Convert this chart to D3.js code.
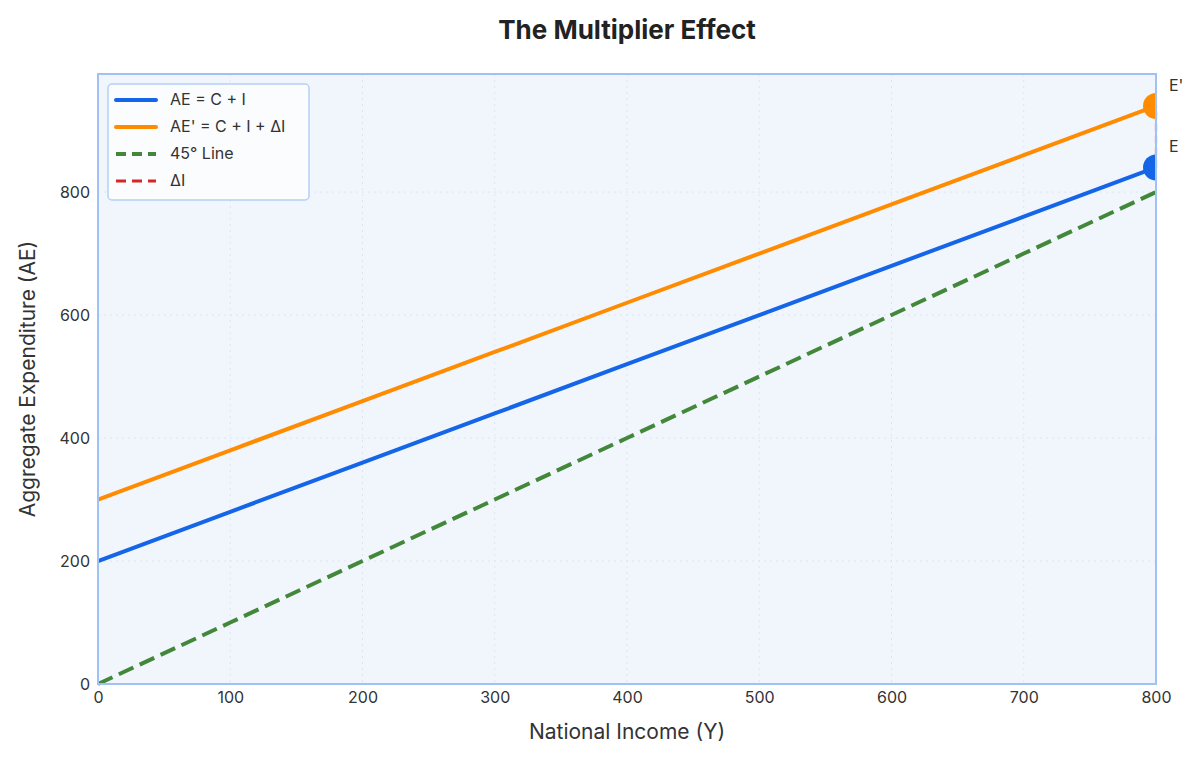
<!DOCTYPE html>
<html>
<head>
<meta charset="utf-8">
<script src="https://cdn.jsdelivr.net/npm/d3@7"></script>
<style>
  body { margin: 0; background: #fff; font-family: Inter, "DejaVu Sans", sans-serif; }
</style>
</head>
<body>
<div id="chart"></div>
<script>
// data
var incomeY = [0, 100, 200, 300, 400, 500, 600, 700, 800];
var aeBase = [200, 280, 360, 440, 520, 600, 680, 760, 840];
var aeNew = [300, 380, 460, 540, 620, 700, 780, 860, 940];
var line45 = [0, 100, 200, 300, 400, 500, 600, 700, 800];
var xTicks = [0, 100, 200, 300, 400, 500, 600, 700, 800];
var yTicks = [0, 200, 400, 600, 800];
var eqPoints = [{ label: "E", x: 800, y: 840, color: "#1565e8" }, { label: "E'", x: 800, y: 940, color: "#ff8c00" }];
var legendLabels = ["AE = C + I", "AE' = C + I + \u0394I", "45\u00b0 Line", "\u0394I"];

var margin = { top: 74, right: 44, bottom: 77, left: 98 },
    width = 1200 - margin.left - margin.right,
    height = 761 - margin.top - margin.bottom;

var svg = d3.select("#chart")
    .append("svg")
    .attr("width", 1200)
    .attr("height", 761)
    .append("g")
    .attr("transform", "translate(" + margin.left + "," + margin.top + ")");

svg.append("clipPath").attr("id", "plotclip")
    .append("rect").attr("width", width).attr("height", height);

var x = d3.scaleLinear().domain([0, 800]).range([0, width]);
var y = d3.scaleLinear().domain([0, 992]).range([height, 0]);

// background
svg.append("rect")
    .attr("width", width)
    .attr("height", height)
    .style("fill", "#f1f6fd");

// grid
svg.append("g").selectAll("line")
    .data(xTicks)
    .enter().append("line")
    .attr("x1", d => x(d)).attr("x2", d => x(d))
    .attr("y1", 0).attr("y2", height)
    .style("stroke", "#dde5f0").style("stroke-dasharray", "2,4");
svg.append("g").selectAll("line")
    .data(yTicks)
    .enter().append("line")
    .attr("y1", d => y(d)).attr("y2", d => y(d))
    .attr("x1", 0).attr("x2", width)
    .style("stroke", "#dde5f0").style("stroke-dasharray", "2,4");

// axes
var xAxis = svg.append("g")
    .attr("transform", "translate(0," + height + ")")
    .call(d3.axisBottom(x).tickValues(xTicks).tickSize(0).tickPadding(8));
var yAxis = svg.append("g")
    .call(d3.axisLeft(y).tickValues(yTicks).tickSize(0).tickPadding(8));
[xAxis, yAxis].forEach(function (a) {
    a.select(".domain").remove();
    a.selectAll("text").style("font-size", "16px").style("fill", "#333").style("font-family", "Inter, sans-serif");
});

// lines
var line = d3.line().x(d => x(d[0])).y(d => y(d[1]));
function pairs(vals) { return incomeY.map((v, i) => [v, vals[i]]); }

svg.append("path")
    .datum(pairs(line45))
    .attr("d", line)
    .style("fill", "none").style("stroke", "#43883a").style("stroke-width", 4)
    .style("stroke-dasharray", "16,7");
svg.append("path")
    .datum(pairs(aeBase))
    .attr("d", line)
    .style("fill", "none").style("stroke", "#1565e8").style("stroke-width", 4);
svg.append("path")
    .datum(pairs(aeNew))
    .attr("d", line)
    .style("fill", "none").style("stroke", "#ff8c00").style("stroke-width", 4);

// delta I
svg.append("line")
    .attr("x1", x(800)).attr("x2", x(800))
    .attr("y1", y(840)).attr("y2", y(940))
    .style("stroke", "#d62728").style("stroke-width", 2.5).style("opacity", 0.35)
    .style("stroke-dasharray", "8,4");

// equilibrium points (clipped at the frame)
svg.append("g").attr("clip-path", "url(#plotclip)")
    .selectAll("circle")
    .data(eqPoints)
    .enter().append("circle")
    .attr("cx", d => x(d.x)).attr("cy", d => y(d.y))
    .attr("r", 13)
    .style("fill", d => d.color);

// frame
svg.append("rect")
    .attr("width", width)
    .attr("height", height)
    .style("fill", "none").style("stroke", "#9fc1f5").style("stroke-width", 2);

svg.selectAll(".ptlabel")
    .data(eqPoints)
    .enter().append("text")
    .attr("x", d => x(d.x) + 13)
    .attr("y", d => y(d.y) - 15)
    .style("font-size", "16px").style("fill", "#333")
    .text(d => d.label);

// legend
var legend = svg.append("g").attr("transform", "translate(10,10)");
legend.append("rect")
    .attr("width", 201).attr("height", 116)
    .attr("rx", 4)
    .style("fill", "#fbfcfe").style("stroke", "#b5d0f5").style("stroke-width", 1.5);
var legendStyles = [
    { color: "#1565e8", dash: null, w: 4 },
    { color: "#ff8c00", dash: null, w: 4 },
    { color: "#43883a", dash: "10,6", w: 4 },
    { color: "#d62728", dash: "10,6", w: 3 }
];
legendLabels.forEach(function (lab, i) {
    var ly = 16 + i * 27;
    legend.append("line")
        .attr("x1", 8).attr("x2", 48).attr("y1", ly).attr("y2", ly)
        .style("stroke", legendStyles[i].color).style("stroke-width", legendStyles[i].w)
        .style("stroke-linecap", legendStyles[i].dash ? "butt" : "round")
        .style("stroke-dasharray", legendStyles[i].dash);
    legend.append("text")
        .attr("x", 62).attr("y", ly + 5)
        .style("font-size", "16px").style("fill", "#333")
        .text(lab);
});

// title
svg.append("text")
    .attr("x", width / 2)
    .attr("y", -35)
    .attr("text-anchor", "middle")
    .style("font-size", "26px").style("font-weight", "bold").style("fill", "#222")
    .text("The Multiplier Effect");

// axis labels
svg.append("text")
    .attr("x", width / 2)
    .attr("y", height + 55)
    .attr("text-anchor", "middle")
    .style("font-size", "21px").style("fill", "#333")
    .text("National Income (Y)");
svg.append("text")
    .attr("transform", "rotate(-90)")
    .attr("x", -height / 2)
    .attr("y", -63)
    .attr("text-anchor", "middle")
    .style("font-size", "21px").style("fill", "#333")
    .text("Aggregate Expenditure (AE)");
</script>
</body>
</html>
